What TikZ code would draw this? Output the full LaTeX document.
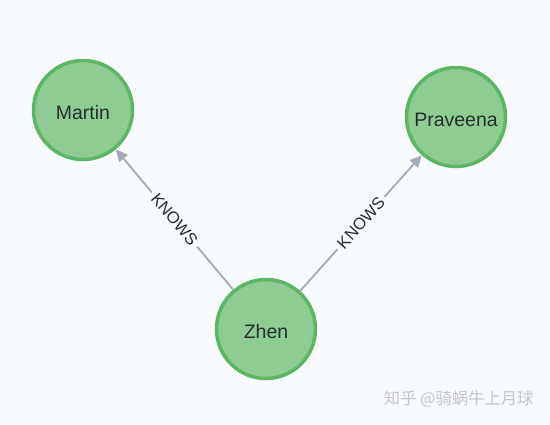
\documentclass[tikz,border=0pt]{standalone}
\usepackage{fontspec}
\setmainfont{Liberation Sans}
\newfontfamily\cjk{Noto Sans CJK SC}
\usetikzlibrary{arrows.meta}
\definecolor{bgc}{HTML}{F8FBFE}
\definecolor{nodefill}{HTML}{8DCC93}
\definecolor{nodeborder}{HTML}{5DB665}
\definecolor{txt}{HTML}{2A2C34}
\definecolor{edgec}{HTML}{A5ABB6}
\definecolor{wm}{HTML}{C4C6C8}
\tikzset{
  person/.style={circle, fill=nodefill, draw=nodeborder, line width=3.5pt, minimum size=99pt, inner sep=0pt,
    label={[text=txt, font=\fontsize{19.5}{21}\selectfont, yshift=-2.5pt]center:#1}},
  rel/.style={draw=edgec, line width=1.8pt, -{Triangle[length=12pt,width=11pt]}},
  rellabel/.style={fill=bgc, inner sep=4pt, sloped, text=txt, font=\fontsize{16.5}{18}\selectfont}
}
\begin{document}
\begin{tikzpicture}[x=1pt,y=-1pt]
\fill[bgc] (0,0) rectangle (550,424);
\useasboundingbox (0,0) rectangle (550,424);
\node[person=Martin] (m) at (83,110) {};
\node[person=Praveena] (p) at (456,117) {};
\node[person=Zhen] (z) at (266,329) {};
\draw[rel] (z) -- node[rellabel] (l1) {KNOWS} (m);
\draw[rel] (z) -- node[rellabel] (l2) {KNOWS} (p);
\node[text=wm, font=\cjk\fontsize{16.3}{18}\selectfont, anchor=east] (w) at (537,399) {知乎 @骑蜗牛上月球};
\end{tikzpicture}
\end{document}
